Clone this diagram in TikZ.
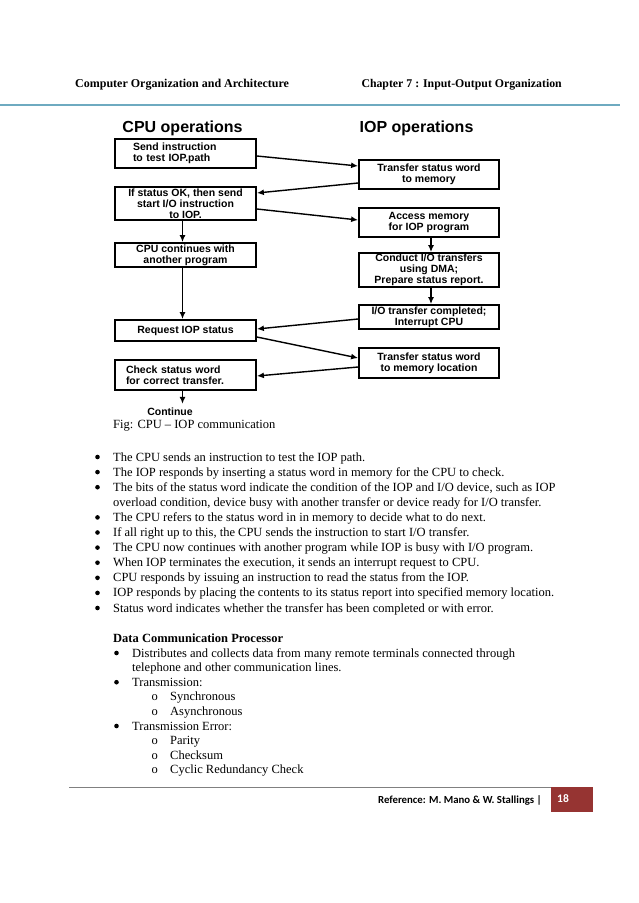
\documentclass[tikz,border=0pt]{standalone}
\usepackage{fontspec}
\setmainfont{Liberation Serif}
\newfontfamily\arialfont{Liberation Sans}
\newfontfamily\calfont{Carlito}
\usetikzlibrary{positioning,arrows.meta}
\definecolor{headline}{RGB}{110,170,192}
\definecolor{pagered}{RGB}{150,52,50}
\definecolor{footline}{RGB}{128,128,128}
\newcommand\listcirc{\llap{\makebox[18.5pt][l]{o}}}

\begin{document}
\begin{tikzpicture}[x=1pt, y=-1pt, >={Latex[length=7pt,width=6pt]},
  opbox/.style={draw, line width=1.8pt, align=center, inner ysep=0pt,
    font=\arialfont\bfseries\fontsize{10.5}{11}\selectfont},
  cpubox/.style={opbox, minimum width=141pt},
  iopbox/.style={opbox, minimum width=140pt},
  flow/.style={->, line width=1.4pt},
  optitle/.style={font=\arialfont\bfseries\fontsize{16}{18}\selectfont},
  body/.style={anchor=base west, inner sep=0pt, font=\fontsize{12.5}{15}\selectfont},
  pagehead/.style={inner sep=0pt, font=\bfseries\fontsize{12}{13}\selectfont}]
  \useasboundingbox (0,0) rectangle (638,903);
  % Page header
  \node[pagehead, anchor=base west] (headl) at (75,87) {Computer Organization and Architecture};
  \node[pagehead, anchor=base east, font=\bfseries\fontsize{11.8}{13}\selectfont] (headr) at (562,87) {Chapter 7 : Input-Output Organization};
  \draw[headline, line width=1.3pt] (0,105) -- (620,105);
  % Titles
  \node[optitle] (cputitle) at (182.5,128) {CPU operations};
  \node[optitle] (ioptitle) at (416.5,128) {IOP operations};
  % CPU side
  \node[cpubox, minimum height=29pt, align=left, text width=105pt, inner xsep=18pt] (c1) at (185.5,153.5)
    {Send instruction\\to test IOP.path};
  \node[cpubox, minimum height=33pt] (c2) at (185.5,203.5)
    {If status OK, then send\\start I/O instruction\\to IOP.};
  \node[cpubox, minimum height=24pt] (c3) at (185.5,255) {CPU continues with\\another program};
  \node[cpubox, minimum height=21pt] (c4) at (185.5,330.5) {Request IOP status};
  \node[cpubox, minimum height=30pt, align=left, text width=119pt, inner xsep=11pt] (c5) at (185.5,375)
    {Check status word\\for correct transfer.};
  \node[font=\arialfont\bfseries\fontsize{10.5}{11}\selectfont, anchor=base] (cont) at (170,415) {Continue};
  % IOP side
  \node[iopbox, minimum height=29pt] (i1) at (429,174.5) {Transfer status word\\to memory};
  \node[iopbox, minimum height=29pt] (i2) at (429,222.5) {Access memory\\for IOP program};
  \node[iopbox, minimum height=34pt] (i3) at (429,270) {Conduct I/O transfers\\using DMA;\\Prepare status report.};
  \node[iopbox, minimum height=24pt] (i4) at (429,317) {I/O transfer completed;\\Interrupt CPU};
  \node[iopbox, minimum height=30pt] (i5) at (429,363) {Transfer status word\\to memory location};
  % Arrows between the two sides
  \draw[flow] ([yshift=-2.5pt]c1.east) -- ([yshift=8.5pt]i1.west);
  \draw[flow] ([yshift=-8.5pt]i1.west) -- ([yshift=10.5pt]c2.east);
  \draw[flow] ([yshift=-5.5pt]c2.east) -- ([yshift=2.5pt]i2.west);
  \draw[flow] ([yshift=-2pt]i4.west) -- ([yshift=1.5pt]c4.east);
  \draw[flow] ([yshift=-6.5pt]c4.east) -- ([yshift=5pt]i5.west);
  \draw[flow] ([yshift=-4pt]i5.west) -- ([yshift=-1pt]c5.east);
  % Arrows down each side
  \draw[flow] ([xshift=-3pt]c2.south) -- ([xshift=-3pt]c3.north);
  \draw[flow] ([xshift=-3pt]c3.south) -- ([xshift=-3pt]c4.north);
  \draw[flow] ([xshift=-3pt]c5.south) -- ([xshift=-3pt]c5.south |- cont.north);
  \draw[flow] ([xshift=2pt]i2.south) -- ([xshift=2pt]i3.north);
  \draw[flow] ([xshift=2pt]i3.south) -- ([xshift=2pt]i4.north);
  % Caption
  \node[body] (cap) at (113,428) {Fig: CPU -- IOP communication};
  % Bullet list
  \node[body] (b1) at (113,461) {The CPU sends an instruction to test the IOP path.};
  \node[body] (b2) at (113,476.1) {The IOP responds by inserting a status word in memory for the CPU to check.};
  \node[body] (b3) at (113,491.2) {The bits of the status word indicate the condition of the IOP and I/O device, such as IOP};
  \node[body] (b3b) at (113,506.3) {overload condition, device busy with another transfer or device ready for I/O transfer.};
  \node[body] (b4) at (113,521.4) {The CPU refers to the status word in in memory to decide what to do next.};
  \node[body] (b5) at (113,536.5) {If all right up to this, the CPU sends the instruction to start I/O transfer.};
  \node[body] (b6) at (113,551.6) {The CPU now continues with another program while IOP is busy with I/O program.};
  \node[body] (b7) at (113,566.7) {When IOP terminates the execution, it sends an interrupt request to CPU.};
  \node[body] (b8) at (113,581.8) {CPU responds by issuing an instruction to read the status from the IOP.};
  \node[body] (b9) at (113,596.9) {IOP responds by placing the contents to its status report into specified memory location.};
  \node[body] (b10) at (113,612) {Status word indicates whether the transfer has been completed or with error.};
  % Data Communication Processor
  \node[body, font=\bfseries\fontsize{12.5}{15}\selectfont] (dcp) at (113,642) {Data Communication Processor};
  \node[body] (d1) at (132,657) {Distributes and collects data from many remote terminals connected through};
  \node[body] (d1b) at (132,671.6) {telephone and other communication lines.};
  \node[body] (d2) at (132,686.2) {Transmission:};
  \node[body] (s1) at (170,700.8) {\listcirc Synchronous};
  \node[body] (s2) at (170,715.4) {\listcirc Asynchronous};
  \node[body] (d3) at (132,730) {Transmission Error:};
  \node[body] (s3) at (170,744.6) {\listcirc Parity};
  \node[body] (s4) at (170,759.2) {\listcirc Checksum};
  \node[body] (s5) at (170,773.8) {\listcirc Cyclic Redundancy Check};
  % Bullets
  \foreach \n in {b1,b2,b3,b4,b5,b6,b7,b8,b9,b10,d1,d2,d3}
    \fill ([xshift=-15.5pt,yshift=4pt]\n.base west) circle (2.3pt);
  % Page footer
  \draw[footline, line width=0.9pt] (69,787) -- (551,787);
  \fill[pagered] (551,787) rectangle (593,812);
  \node[anchor=base east, inner sep=0pt, font=\calfont\bfseries\fontsize{10.8}{13}\selectfont] (foot) at (542,803)
    {Reference: M. Mano \& W. Stallings |};
  \node[anchor=base west, inner sep=0pt, text=white, font=\calfont\bfseries\fontsize{11.5}{13}\selectfont] (pagenum) at (557,802) {18};
\end{tikzpicture}
\end{document}
